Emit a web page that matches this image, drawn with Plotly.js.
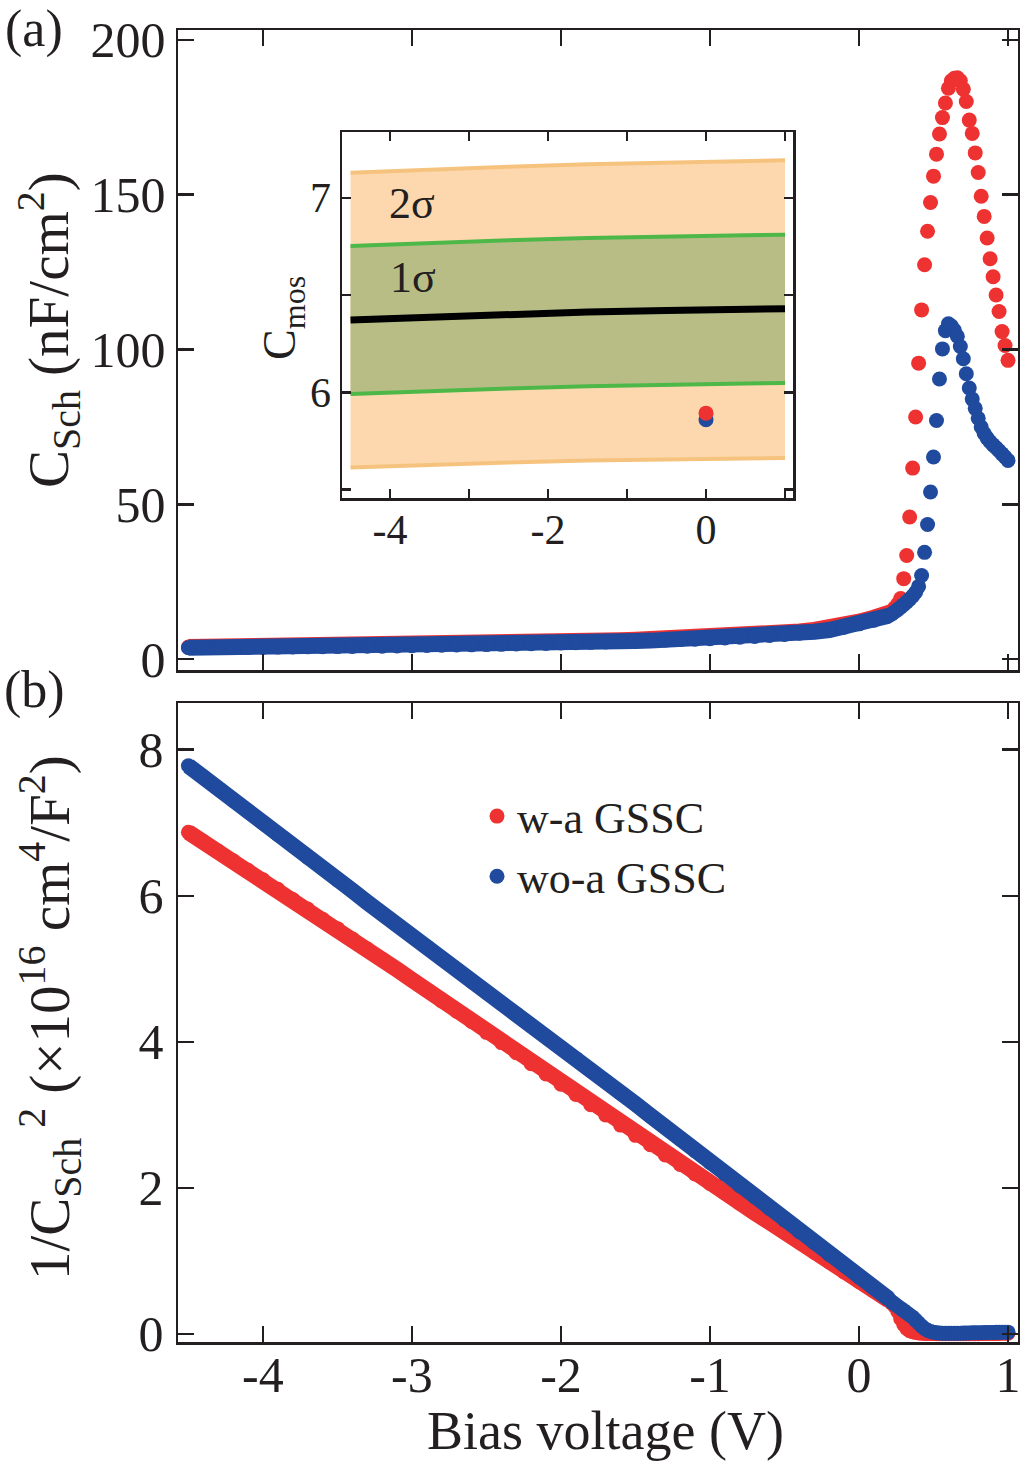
<!DOCTYPE html>
<html>
<head>
<meta charset="utf-8">
<script src="https://cdn.plot.ly/plotly-3.0.1.min.js"></script>
<style>html,body{margin:0;padding:0;background:#fff}</style>
</head>
<body>
<div id="chart" style="width:1020px;height:1463px"></div>
<script>
// Bias voltage grids (V)
const biasCoarse = [-4.5,-4.4,-4.3,-4.2,-4.1,-4.0,-3.9,-3.8,-3.7,-3.6,-3.5,-3.4,-3.3,-3.2,-3.1,-3.0,
  -2.9,-2.8,-2.7,-2.6,-2.5,-2.4,-2.3,-2.2,-2.1,-2.0,-1.9,-1.8,-1.7,-1.6,-1.5,-1.4,-1.3,-1.2,-1.1,-1.0,
  -0.9,-0.8,-0.7,-0.6,-0.5,-0.4,-0.3,-0.2,-0.1,0.0,0.1,0.2];
const biasFine = [0.22,0.24,0.26,0.28,0.30,0.32,0.34,0.36,0.38,0.40,0.42,0.44,0.46,0.48,0.50,0.52,0.54,
  0.56,0.58,0.60,0.62,0.64,0.66,0.68,0.70,0.72,0.74,0.76,0.78,0.80,0.82,0.84,0.86,0.88,0.90,0.92,0.94,
  0.96,0.98,1.00];

// (a) Schottky capacitance C_Sch (nF/cm^2)
const capWithCoarse = [3.95,3.98,4.01,4.05,4.08,4.12,4.16,4.20,4.25,4.29,4.34,4.39,4.44,4.50,4.57,4.64,
  4.71,4.78,4.86,4.94,5.03,5.12,5.21,5.32,5.43,5.55,5.67,5.80,5.94,6.08,6.23,6.39,6.56,6.74,6.88,7.02,
  7.26,7.52,7.81,8.13,8.51,8.94,9.45,10.05,10.95,12.1,13.4,15.0];
const capWithFine = [15.6,16.6,17.8,19.6,26.0,33.5,45.9,61.7,78.2,95.6,112.8,127.4,138.2,147.5,156.0,
  163.1,169.6,174.9,179.6,184.4,186.8,187.6,187.8,186.8,184.1,180.1,174.1,169.8,163.5,157.2,149.5,
  143.0,136.0,129.3,123.5,117.6,112.3,105.8,101.3,96.5];
const capWithoutCoarse = [3.70,3.73,3.76,3.79,3.82,3.86,3.90,3.94,3.98,4.02,4.06,4.11,4.16,4.21,4.28,4.35,
  4.41,4.48,4.55,4.63,4.71,4.79,4.88,4.98,5.09,5.20,5.31,5.43,5.56,5.70,5.84,5.99,6.15,6.32,6.46,6.60,
  6.82,7.06,7.33,7.63,7.98,8.38,8.85,9.40,10.3,11.4,12.6,14.0];
const capWithoutFine = [14.6,15.3,16.0,16.8,17.6,18.5,19.4,20.4,21.6,23.5,27.0,34.5,43.5,54.0,65.3,
  77.1,90.5,100.2,106.1,108.3,107.6,106.2,104.3,101.0,97.0,92.2,87.6,84.0,81.0,77.8,75.0,72.9,71.4,
  70.2,69.2,68.3,67.3,66.3,65.3,64.2];

// (b) 1/C_Sch^2 (x10^16 cm^4/F^2)
const invSqWithCoarse = [6.87,6.74,6.61,6.48,6.35,6.22,6.09,5.95,5.82,5.68,5.55,5.41,5.27,5.13,4.99,4.85,
  4.71,4.56,4.42,4.28,4.13,3.99,3.85,3.70,3.56,3.42,3.28,3.14,3.00,2.86,2.72,2.59,2.45,2.32,2.19,2.06,
  1.93,1.79,1.66,1.53,1.40,1.26,1.12,0.99,0.85,0.72,0.59,0.46];
const invSqWithFine = [0.42,0.38,0.31,0.21,0.13,0.075,0.045,0.03,0.02,0.014,0.01,0.008,0.007,0.006,0.005,
  0.004,0.004,0.003,0.003,0.003,0.003,0.003,0.003,0.003,0.003,0.003,0.004,0.004,0.004,0.004,0.005,
  0.005,0.006,0.006,0.007,0.008,0.008,0.009,0.010,0.011];
const invSqWithoutCoarse = [7.78,7.63,7.47,7.31,7.16,7.00,6.84,6.69,6.53,6.38,6.22,6.07,5.91,5.76,5.60,5.45,
  5.30,5.14,4.99,4.83,4.68,4.53,4.38,4.22,4.07,3.92,3.77,3.61,3.46,3.30,3.15,2.99,2.83,2.67,2.51,2.35,
  2.19,2.03,1.88,1.72,1.56,1.40,1.25,1.09,0.94,0.78,0.63,0.48];
const invSqWithoutFine = [0.44,0.41,0.38,0.35,0.32,0.29,0.26,0.23,0.19,0.15,0.11,0.075,0.05,0.035,0.025,
  0.018,0.014,0.011,0.010,0.009,0.009,0.009,0.010,0.011,0.012,0.013,0.014,0.015,0.016,0.017,0.018,
  0.019,0.020,0.021,0.021,0.022,0.022,0.023,0.024,0.025];

// Inset: C_mos distribution (mean, 1 sigma and 2 sigma bounds) and the zero-bias values
const bandBias   = [-4.5,-3.5,-2.5,-1.5,-0.5,0.5,1.0];
const bandUpper2 = [7.128,7.145,7.160,7.172,7.182,7.190,7.193];
const bandUpper1 = [6.752,6.768,6.782,6.793,6.802,6.808,6.810];
const bandMean   = [6.372,6.388,6.402,6.413,6.421,6.427,6.430];
const bandLower1 = [5.991,6.007,6.020,6.031,6.040,6.046,6.048];
const bandLower2 = [5.614,5.628,5.640,5.650,5.656,5.661,5.663];
const zeroBias = [0];
const cmosWith = [5.893];
const cmosWithout = [5.859];

// Tick labels
const biasTickVals = [-4,-3,-2,-1,0,1];
const biasTickText = ['-4','-3','-2','-1','0','1'];
const capTickVals = [0,50,100,150,200];
const capTickText = ['0','50','100','150','200'];
const invTickVals = [0,2,4,6,8];
const invTickText = ['0','2','4','6','8'];
const insetXTickVals = [-4,-2,0];
const insetXTickText = ['-4','-2','0'];
const insetXMinorVals = [-3,-1,1];
const insetYTickVals = [6,7];
const insetYTickText = ['6','7'];
const insetYMinorVals = [5.5,6.5];

const seriesNames = ['w-a GSSC','wo-a GSSC'];

const W = 1020, H = 1463;
const px = x => x / W;
const py = y => 1 - y / H;
const INK = '#231f20';
const SERIF = 'Liberation Serif, Times New Roman, serif';
const RED = '#ee3131';
const BLUE = '#1f4a9d';
const DOT = 15;

function frameAxis(extra) {
  return Object.assign({
    showline: true, linecolor: INK, linewidth: 2.5, mirror: 'ticks',
    ticks: 'inside', ticklen: 16, tickwidth: 2.5, tickcolor: INK,
    showgrid: false, zeroline: false, fixedrange: true,
    tickmode: 'array', ticklabeloverflow: 'allow',
    tickfont: {family: SERIF, size: 50, color: INK}
  }, extra);
}

function insetMinor(vals) {
  return {tickmode: 'array', tickvals: vals, ticks: 'inside', ticklen: 9, tickwidth: 2.5, tickcolor: INK, showgrid: false};
}

function measured(xc, yc, xf, yf, color, xa, ya, name, legend) {
  // a connecting stroke under the dense coarse points keeps the band continuous
  return [
    {x: xc, y: yc, xaxis: xa, yaxis: ya, mode: 'lines', type: 'scatter',
     line: {color: color, width: DOT + 1}, showlegend: false, hoverinfo: 'skip'},
    {x: xc.concat(xf), y: yc.concat(yf), xaxis: xa, yaxis: ya, mode: 'markers', type: 'scatter',
     name: name, showlegend: legend, marker: {color: color, size: DOT}}
  ];
}

const traces = [];
// panel (a)
traces.push(...measured(biasCoarse, capWithCoarse, biasFine, capWithFine, RED, 'x', 'y', seriesNames[0], false));
traces.push(...measured(biasCoarse, capWithoutCoarse, biasFine, capWithoutFine, BLUE, 'x', 'y', seriesNames[1], false));
// panel (b)
traces.push(...measured(biasCoarse, invSqWithCoarse, biasFine, invSqWithFine, RED, 'x2', 'y2', seriesNames[0], true));
traces.push(...measured(biasCoarse, invSqWithoutCoarse, biasFine, invSqWithoutFine, BLUE, 'x2', 'y2', seriesNames[1], true));

// inset bands
const rev = a => a.slice().reverse();
traces.push({x: bandBias.concat(rev(bandBias)), y: bandUpper2.concat(rev(bandLower2)), xaxis: 'x3', yaxis: 'y3',
  mode: 'lines', fill: 'toself', fillcolor: '#fdd8ae', line: {width: 0, color: 'rgba(0,0,0,0)'},
  showlegend: false, hoverinfo: 'skip'});
traces.push({x: bandBias.concat(rev(bandBias)), y: bandUpper1.concat(rev(bandLower1)), xaxis: 'x3', yaxis: 'y3',
  mode: 'lines', fill: 'toself', fillcolor: '#b8bd86', line: {width: 0, color: 'rgba(0,0,0,0)'},
  showlegend: false, hoverinfo: 'skip'});
[[bandUpper2, '#f6c37f', 4], [bandLower2, '#f6c37f', 4], [bandUpper1, '#4db848', 4],
 [bandLower1, '#4db848', 4], [bandMean, '#000000', 7]].forEach(([yv, c, w]) => {
  traces.push({x: bandBias, y: yv, xaxis: 'x3', yaxis: 'y3', mode: 'lines',
    line: {color: c, width: w}, showlegend: false, hoverinfo: 'skip'});
});
traces.push({x: zeroBias, y: cmosWithout, xaxis: 'x3', yaxis: 'y3', mode: 'markers',
  marker: {color: BLUE, size: DOT}, showlegend: false});
traces.push({x: zeroBias, y: cmosWith, xaxis: 'x3', yaxis: 'y3', mode: 'markers',
  marker: {color: RED, size: DOT}, showlegend: false});

function label(text, x, y, size, angle, yanchor) {
  return {text: text, xref: 'paper', yref: 'paper', x: px(x), y: py(y), xanchor: 'center',
    yanchor: yanchor || 'middle', borderpad: 0,
    showarrow: false, textangle: angle || 0, font: {family: SERIF, size: size, color: INK}};
}

const layout = {
  width: W, height: H,
  margin: {l: 0, r: 0, t: 0, b: 0},
  paper_bgcolor: '#ffffff', plot_bgcolor: 'rgba(0,0,0,0)',
  font: {family: SERIF, color: INK},
  showlegend: true,
  legend: {x: px(477), y: py(781), xanchor: 'left', yanchor: 'top', bgcolor: 'rgba(0,0,0,0)',
    font: {family: SERIF, size: 44, color: INK}, itemwidth: 30, tracegroupgap: 0},
  xaxis: frameAxis({domain: [px(178), px(1018)], anchor: 'y', range: [-4.57, 1.067],
    tickvals: biasTickVals, ticktext: biasTickText, showticklabels: false}),
  yaxis: frameAxis({domain: [py(670), py(30)], anchor: 'x', range: [-3.5, 203.2],
    tickvals: capTickVals, ticktext: capTickText, ticklabelstandoff: 0}),
  xaxis2: frameAxis({domain: [px(178), px(1018)], anchor: 'y2', range: [-4.57, 1.067],
    tickvals: biasTickVals, ticktext: biasTickText, ticklabelstandoff: -13}),
  yaxis2: frameAxis({domain: [py(1342), py(703)], anchor: 'x2', range: [-0.11, 8.64],
    tickvals: invTickVals, ticktext: invTickText, ticklabelstandoff: 2}),
  xaxis3: frameAxis({domain: [px(342), px(793)], anchor: 'y3', range: [-4.608, 1.101],
    tickvals: insetXTickVals, ticktext: insetXTickText, ticklen: 9, ticklabelstandoff: -7,
    minor: insetMinor(insetXMinorVals),
    tickfont: {family: SERIF, size: 42, color: INK}}),
  yaxis3: frameAxis({domain: [py(498), py(132)], anchor: 'x3', range: [5.457, 7.338],
    tickvals: insetYTickVals, ticktext: insetYTickText, ticklen: 9, ticklabelstandoff: 0,
    minor: insetMinor(insetYMinorVals),
    tickfont: {family: SERIF, size: 42, color: INK}}),
  annotations: [
    label('(a)', 34, 29, 52),
    label('(b)', 34, 690, 52),
    label('C<sub>Sch</sub> (nF/cm<sup>2</sup>)', 48, 330, 57, -90),
    label('1/C<sub>Sch</sub><sup> 2</sup> (\u00d710<sup>16</sup> cm<sup>4</sup>/F<sup>2</sup>)', 50, 1018, 57, -90),
    label('Bias voltage (V)', 605, 1462, 54, 0, 'bottom'),
    label('C<sub>mos</sub>', 283, 318, 46, -90),
    label('2\u03c3', 412, 204, 44),
    label('1\u03c3', 413, 277, 44)
  ]
};

Plotly.newPlot('chart', traces, layout, {staticPlot: true, displayModeBar: false});
</script>
</body>
</html>
